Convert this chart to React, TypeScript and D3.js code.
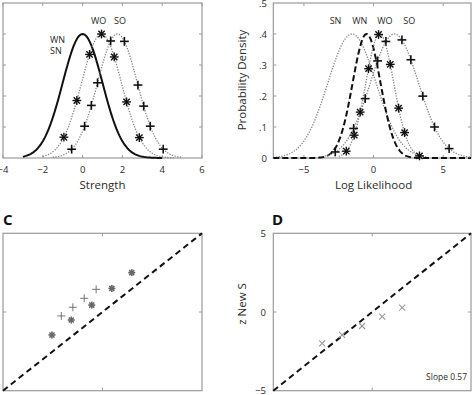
import React from 'react';
import * as d3 from 'd3';

// peak height used for every density curve
const peak = 0.4;

// panel A: strength distributions (WN and SN coincide)
const strengthNames = ['WN/SN', 'WO', 'SO'];
const strengthMean = [0, 0.95, 1.75];
const strengthSd = [1, 1, 1];
const strengthFrom = [-3, -2, -1.5];
const strengthTo = [4, 4.6, 5];
const strengthStarX = [-0.94, -0.29, 0.35, 0.95, 1.59, 2.21, 2.85];
const strengthPlusX = [-0.55, 0.1, 0.44, 0.75, 1.41, 2.1, 2.78, 3.07, 3.4, 4.05];
const strengthTicks = [-4, -2, 0, 2, 4, 6];

// panel B: log likelihood distributions
const llNames = ['SN', 'WN', 'WO', 'SO'];
const llMean = [-1.55, -0.5, 0.45, 1.5];
const llSd = [1.73, 1, 1, 1.73];
const llFrom = [-7.2, -7.2, -2.5, -3.5];
const llTo = [3.8, 7, 3.6, 7];
const llStarX = [-1.96, -1.39, -0.96, -0.36, 0.36, 1.2, 1.8, 2.23, 3.3];
const llPlusX = [-2.75, -1.43, -0.6, 0.29, 0.89, 2.04, 2.68, 3.54, 4.38, 5.43];
const llTicks = [-5, 0, 5];
const densityTicks = [0, 0.1, 0.2, 0.3, 0.4, 0.5];
const densityLabels = ['0', '.1', '.2', '.3', '.4', '.5'];

// panel C
const cStarX = [-2.54, -1.57, -0.54, 0.47, 1.47];
const cStarY = [-1.46, -0.51, 0.44, 1.5, 2.5];
const cPlusX = [-2.07, -1.49, -0.92, -0.32];
const cPlusY = [-0.25, 0.3, 0.87, 1.44];

// panel D
const dCrossX = [-2.53, -1.52, -0.51, 0.51, 1.52];
const dCrossY = [-1.99, -1.46, -0.89, -0.3, 0.28];
const zTicks = [-5, 0, 5];

const font = "'Open Sans', 'Noto Sans', sans-serif";
const frame = '#9a9a9a';
const ink = '#2a2a2a';

const dens = (x: number, m: number, s: number) => peak * Math.exp(-((x - m) ** 2) / (2 * s * s));

function Star({ x, y, r = 4.4, color = '#111', w = 1.4 }: any) {
  const d = r * 0.72;
  return (
    <g stroke={color} strokeWidth={w}>
      <line x1={x - r} y1={y} x2={x + r} y2={y} />
      <line x1={x} y1={y - r} x2={x} y2={y + r} />
      <line x1={x - d} y1={y - d} x2={x + d} y2={y + d} />
      <line x1={x - d} y1={y + d} x2={x + d} y2={y - d} />
    </g>
  );
}

function Plus({ x, y, r = 4.4, color = '#111', w = 1.6 }: any) {
  return (
    <g stroke={color} strokeWidth={w}>
      <line x1={x - r} y1={y} x2={x + r} y2={y} />
      <line x1={x} y1={y - r} x2={x} y2={y + r} />
    </g>
  );
}

function Cross({ x, y, r = 3, color = '#999', w = 1.1 }: any) {
  return (
    <g stroke={color} strokeWidth={w}>
      <line x1={x - r} y1={y - r} x2={x + r} y2={y + r} />
      <line x1={x - r} y1={y + r} x2={x + r} y2={y - r} />
    </g>
  );
}

function Box({ x, y }: any) {
  const [x0, x1] = x.range();
  const [y0, y1] = y.range();
  return <rect x={x0} y={y1} width={x1 - x0} height={y0 - y1} fill="none" stroke={frame} strokeWidth={1.2} />;
}

function Ticks({ x, y, xt, yt }: any) {
  const [x0, x1] = x.range();
  const [y0, y1] = y.range();
  const len = 3;
  return (
    <g stroke={frame} strokeWidth={1}>
      {xt.map((t: number) => (
        <g key={'x' + t}>
          <line x1={x(t)} x2={x(t)} y1={y0} y2={y0 - len} />
          <line x1={x(t)} x2={x(t)} y1={y1} y2={y1 + len} />
        </g>
      ))}
      {yt.map((t: number) => (
        <g key={'y' + t}>
          <line x1={x0} x2={x0 + len} y1={y(t)} y2={y(t)} />
          <line x1={x1} x2={x1 - len} y1={y(t)} y2={y(t)} />
        </g>
      ))}
    </g>
  );
}

function curvePath(x: any, y: any, m: number, s: number, a: number, b: number) {
  const xs = d3.range(a, b + 0.001, 0.05);
  return d3.line<number>().x((v) => x(v)).y((v) => y(dens(v, m, s)))(xs) || '';
}

export default function App() {
  const yTop = d3.scaleLinear().domain([0, 0.5]).range([158, 3]);
  const xA = d3.scaleLinear().domain([-4, 6]).range([3, 202]);
  const xB = d3.scaleLinear().domain([-7.2, 7]).range([273.3, 471]);
  const yBot = d3.scaleLinear().domain([-5, 5]).range([390.7, 233.3]);
  const xC = d3.scaleLinear().domain([-5, 5]).range([3, 202]);
  const xD = d3.scaleLinear().domain([-5, 5]).range([273.3, 471]);

  const dotted = { fill: 'none', stroke: '#858585', strokeWidth: 1.3, strokeDasharray: '1.3,1.4' };

  return (
    <svg width={474} height={395} style={{ position: 'absolute', left: 0, top: 0, background: '#fff' }} fontFamily={font}>
      {/* Panel A */}
      <Box x={xA} y={yTop} />
      <Ticks x={xA} y={yTop} xt={strengthTicks} yt={densityTicks.slice(1, 5)} />
      {strengthNames.map((n, i) => (
        <path
          key={n}
          d={curvePath(xA, yTop, strengthMean[i], strengthSd[i], strengthFrom[i], strengthTo[i])}
          {...(i === 0 ? { fill: 'none', stroke: '#111', strokeWidth: 2 } : dotted)}
        />
      ))}
      {strengthStarX.map((v) => (
        <Star key={'as' + v} x={xA(v)} y={yTop(dens(v, strengthMean[1], strengthSd[1]))} />
      ))}
      {strengthPlusX.map((v) => (
        <Plus key={'ap' + v} x={xA(v)} y={yTop(dens(v, strengthMean[2], strengthSd[2]))} />
      ))}
      <g fontSize={9} fill={ink}>
        <text x={50} y={43}>WN</text>
        <text x={50} y={54}>SN</text>
        <text x={91} y={23.5}>WO</text>
        <text x={114} y={23.5}>SO</text>
      </g>
      <g fontSize={9.5} fill={ink} textAnchor="middle">
        {strengthTicks.map((t) => (
          <text key={t} x={xA(t)} y={173}>{t < 0 ? '\u2212' + Math.abs(t) : t}</text>
        ))}
      </g>
      <text x={xA(1)} y={189} fontSize={11.5} fill={ink} textAnchor="middle">Strength</text>

      {/* Panel B */}
      <Box x={xB} y={yTop} />
      <Ticks x={xB} y={yTop} xt={llTicks} yt={densityTicks.slice(1, 5)} />
      {llNames.map((n, i) => (
        <path
          key={n}
          d={curvePath(xB, yTop, llMean[i], llSd[i], llFrom[i], llTo[i])}
          {...(n === 'WN' ? { fill: 'none', stroke: '#111', strokeWidth: 2, strokeDasharray: '6,3' } : dotted)}
        />
      ))}
      {llStarX.map((v) => (
        <Star key={'bs' + v} x={xB(v)} y={yTop(dens(v, llMean[2], llSd[2]))} />
      ))}
      {llPlusX.map((v) => (
        <Plus key={'bp' + v} x={xB(v)} y={yTop(dens(v, llMean[3], llSd[3]))} />
      ))}
      <g fontSize={9} fill={ink}>
        <text x={329.7} y={23.5}>SN</text>
        <text x={352.3} y={23.5}>WN</text>
        <text x={377.3} y={23.5}>WO</text>
        <text x={403.3} y={23.5}>SO</text>
      </g>
      <g fontSize={9.5} fill={ink} textAnchor="middle">
        {llTicks.map((t) => (
          <text key={t} x={xB(t)} y={173}>{t < 0 ? '\u2212' + Math.abs(t) : t}</text>
        ))}
      </g>
      <g fontSize={9.5} fill={ink} textAnchor="end">
        {densityTicks.map((t, i) => (
          <text key={t} x={267} y={yTop(t) + 3.5}>{densityLabels[i]}</text>
        ))}
      </g>
      <text x={xB(0)} y={189} fontSize={11.5} fill={ink} textAnchor="middle">Log Likelihood</text>
      <text transform="translate(246,80) rotate(-90)" fontSize={11.5} fill={ink} textAnchor="middle">Probability Density</text>

      {/* Panel C */}
      <text x={3} y={225} fontSize={15} fontWeight="bold" fill="#111">C</text>
      <Box x={xC} y={yBot} />
      <Ticks x={xC} y={yBot} xt={[0]} yt={[0]} />
      <line x1={xC(-5)} y1={yBot(-5)} x2={xC(5)} y2={yBot(5)} stroke="#111" strokeWidth={2} strokeDasharray="6,4" />
      {cStarX.map((v, i) => (
        <Star key={'cs' + i} x={xC(v)} y={yBot(cStarY[i])} r={3.5} color="#666" w={1.6} />
      ))}
      {cPlusX.map((v, i) => (
        <Plus key={'cp' + i} x={xC(v)} y={yBot(cPlusY[i])} r={4} color="#666" w={0.9} />
      ))}

      {/* Panel D */}
      <text x={272} y={225} fontSize={15} fontWeight="bold" fill="#111">D</text>
      <Box x={xD} y={yBot} />
      <Ticks x={xD} y={yBot} xt={[0]} yt={[0]} />
      <line x1={xD(-5)} y1={yBot(-5)} x2={xD(5)} y2={yBot(5)} stroke="#111" strokeWidth={2} strokeDasharray="6,4" />
      {dCrossX.map((v, i) => (
        <Cross key={'dx' + i} x={xD(v)} y={yBot(dCrossY[i])} />
      ))}
      <g fontSize={9.5} fill={ink} textAnchor="end">
        {zTicks.map((t) => (
          <text key={t} x={266} y={yBot(t) + 3.5}>{t < 0 ? '\u2212' + Math.abs(t) : t}</text>
        ))}
      </g>
      <text transform="translate(246,304) rotate(-90)" fontSize={11.5} fill={ink} textAnchor="middle">z New S</text>
      <text x={467} y={380} fontSize={8.5} fill={ink} textAnchor="end">Slope 0.57</text>
    </svg>
  );
}
